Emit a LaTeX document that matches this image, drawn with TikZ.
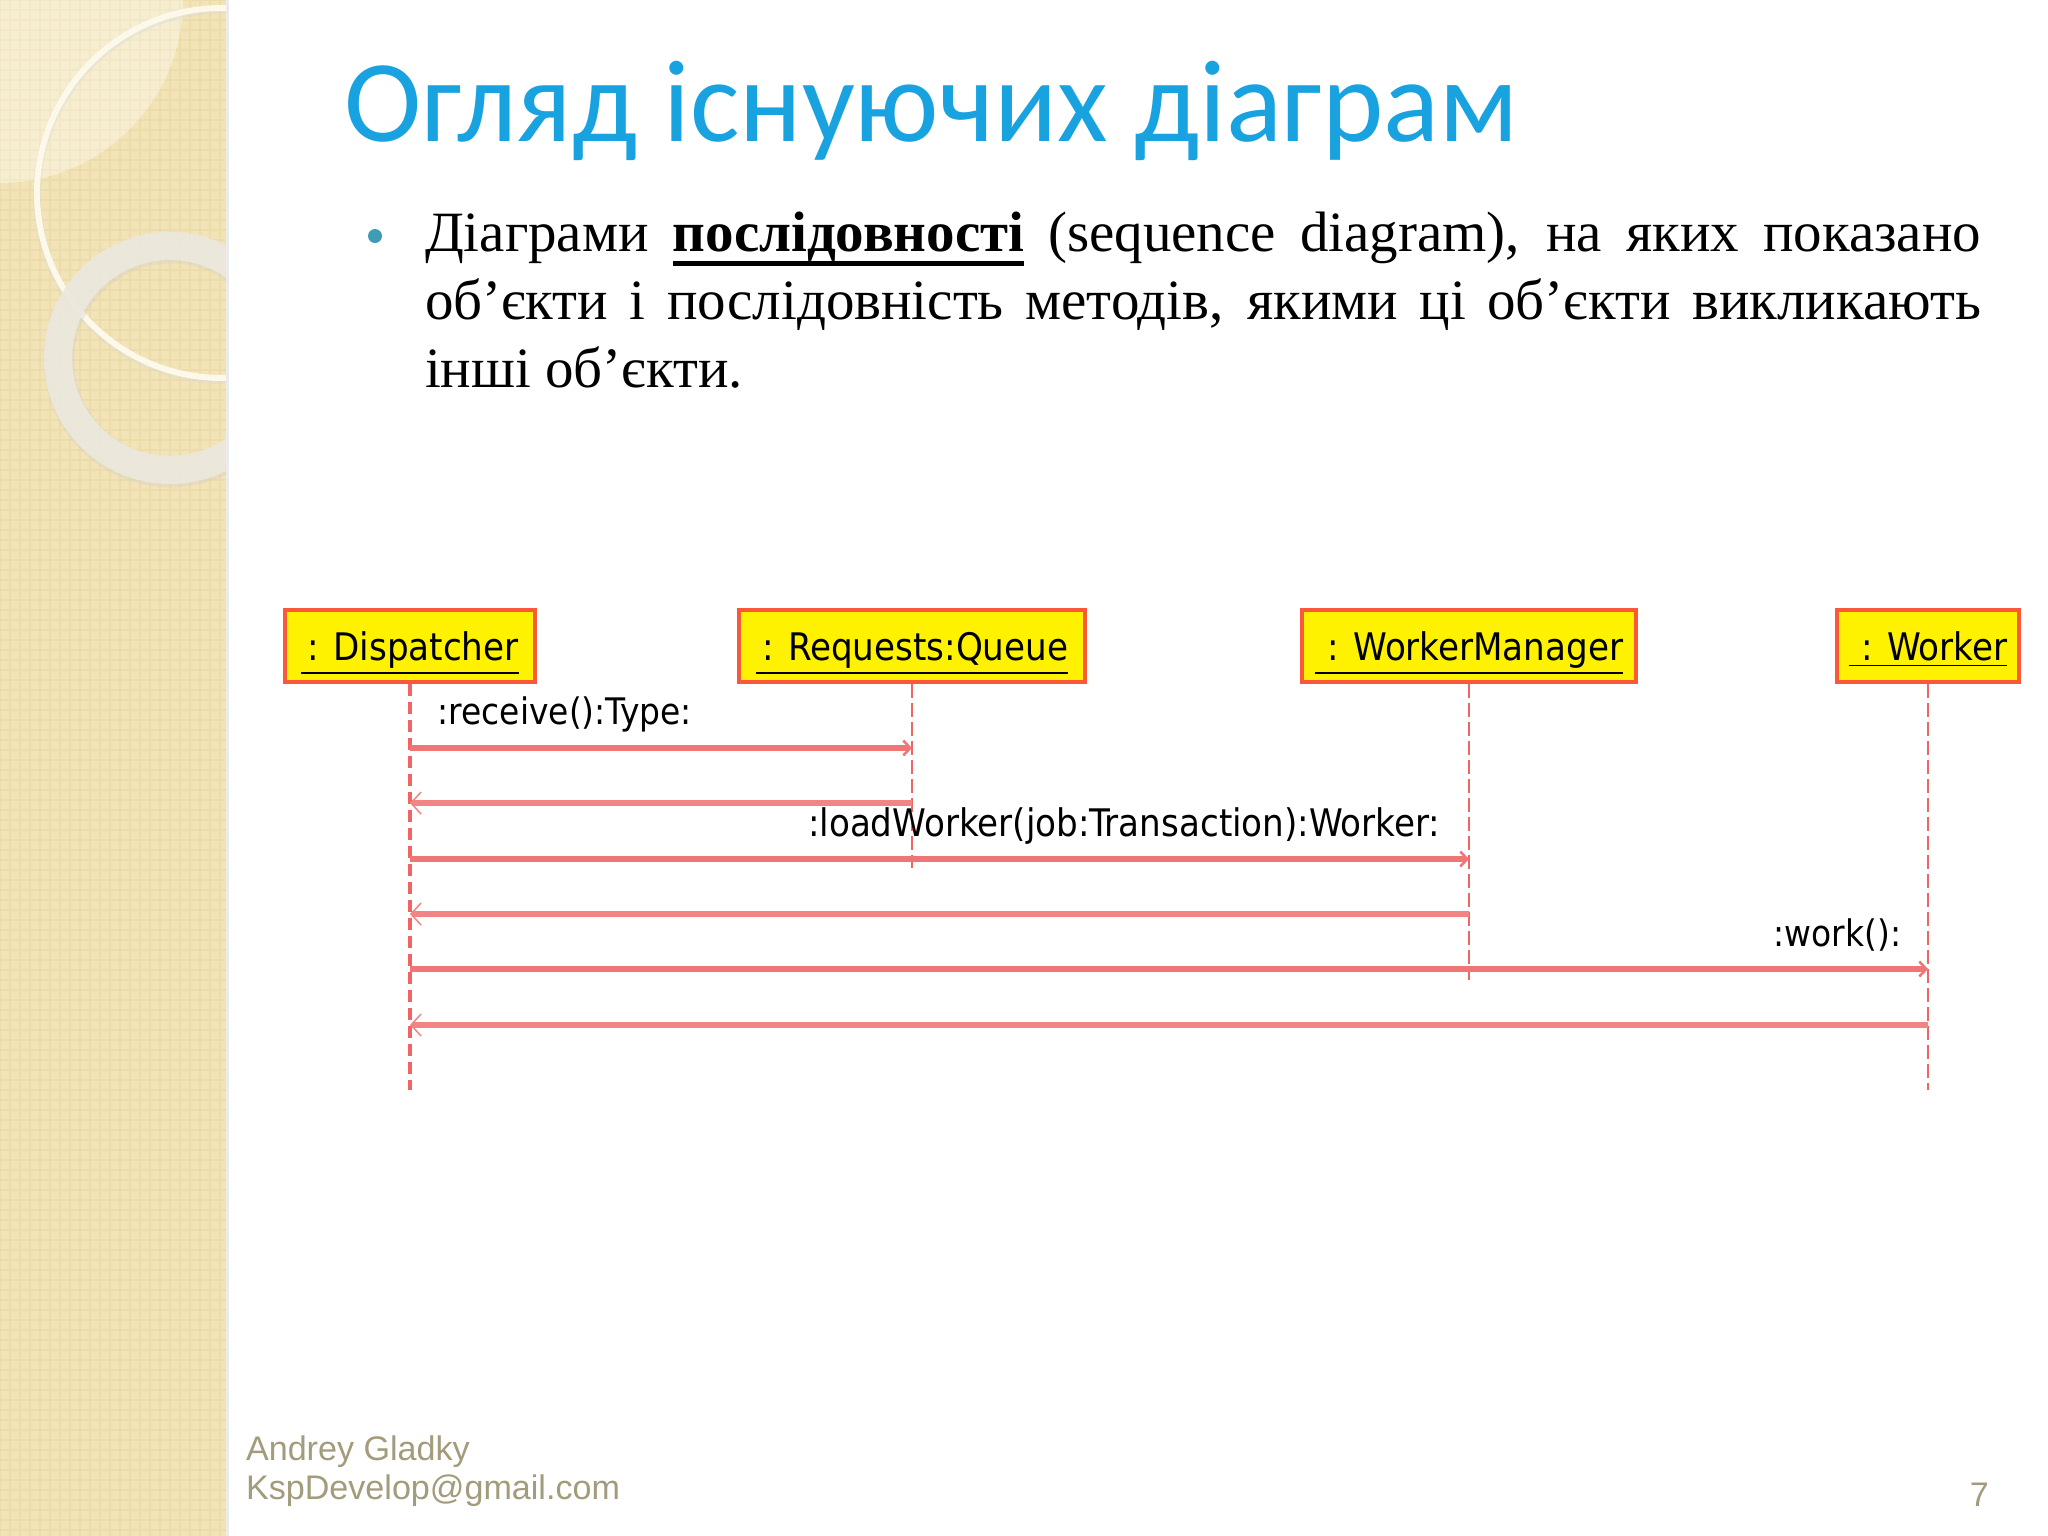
\documentclass[tikz,border=0pt]{standalone}
\usepackage{fontspec}
\setmainfont{Liberation Serif}
\newfontfamily\titlefont{Carlito}
\newfontfamily\footfont{Liberation Sans}
\newfontfamily\umlfont{DejaVu Sans Condensed}
\usetikzlibrary{arrows.meta}
\definecolor{titleblue}{RGB}{24,163,224}
\definecolor{strip}{RGB}{243,228,184}
\definecolor{stripdark}{RGB}{236,220,172}
\definecolor{ringcream}{RGB}{252,248,234}
\definecolor{ringgray}{RGB}{236,232,222}
\definecolor{boxred}{RGB}{250,88,56}
\definecolor{msgred}{RGB}{240,118,118}
\definecolor{lifered}{RGB}{240,100,100}
\definecolor{footgray}{RGB}{163,156,124}
\definecolor{bullteal}{RGB}{62,156,180}
\newcommand{\boldul}[1]{\setbox0\hbox{#1}\rlap{\rule[-4.2pt]{\wd0}{1.4pt}}\box0\relax}

\begin{document}
\begin{tikzpicture}[x=0.01cm,y=-0.01cm,>=Straight Barb,semithick]
  \tikzstyle{object}=[draw=boxred,line width=0.04cm,fill=yellow,minimum height=0.71cm,inner sep=0pt,text height=0.38cm,text depth=0.10cm,font=\umlfont\fontsize{10.8}{13}\selectfont]
  \tikzstyle{life}=[draw=lifered,dash pattern=on 0.14cm off 0.05cm,line width=0.025cm]
  \tikzstyle{call}=[draw=msgred,line width=0.055cm,-{Straight Barb[length=0.07cm,width=0.15cm,line width=0.025cm]}]
  \tikzstyle{back}=[draw=msgred!90,line width=0.06cm,-{Straight Barb[length=0.1cm,width=0.22cm,line width=0.015cm]}]
  \tikzstyle{msg}=[font=\umlfont\fontsize{10.4}{12}\selectfont,inner sep=0pt,text=black]
  \tikzstyle{foot}=[font=\footfont\fontsize{9.7}{11}\selectfont,text=footgray,inner sep=0pt]

  \useasboundingbox (0,0) rectangle (2048,1536);
  \fill[white] (0,0) rectangle (2048,1536);

  % left strip
  \begin{scope}
    \clip (0,0) rectangle (226,1536);
    \fill[strip] (0,0) rectangle (226,1536);
    \foreach \k in {0,10,...,220} \draw[stripdark,line width=0.02cm] (\k,0) -- (\k,1536);
    \foreach \k in {0,10,...,1530} \draw[stripdark,line width=0.02cm] (0,\k) -- (226,\k);
    \begin{scope}
      \clip (0,0) rectangle (183,183);
      \fill[white,opacity=0.35] (0,0) circle[radius=183];
    \end{scope}
    \draw[line width=0.08cm,black!15,opacity=0.4] (222,195) circle[radius=185];
    \draw[line width=0.06cm,ringcream] (222,193) circle[radius=185];
    \draw[line width=0.31cm,black!20,opacity=0.3] (171,360) circle[radius=112];
    \draw[line width=0.28cm,ringgray,opacity=0.92] (170,358) circle[radius=112];
  \end{scope}
  \fill[black!8] (226,0) rectangle (229,1536);

  % title and text
  \node[anchor=base west,inner sep=0pt,text=titleblue,font=\titlefont\fontsize{33.2}{40}\selectfont] (title) at (343,141) {Огляд існуючих діаграм};
  \fill[bullteal] (375,236) circle[radius=7];
  \node[anchor=base west,inner sep=0pt,font=\fontsize{16.2}{19}\selectfont] (line1) at (424,251)
    {\makebox[15.55cm][s]{Діаграми \boldul{\textbf{послідовності}} (sequence diagram), на яких показано}};
  \node[anchor=base west,inner sep=0pt,font=\fontsize{16.2}{19}\selectfont] (line2) at (424,319)
    {\makebox[15.55cm][s]{об’єкти і послідовність методів, якими ці об’єкти викликають}};
  \node[anchor=base west,inner sep=0pt,font=\fontsize{16.2}{19}\selectfont] (line3) at (424,387) {інші об’єкти.};

  % sequence diagram
  \node[object,minimum width=2.49cm] (disp)  at (410,646)  {\underline{\,: Dispatcher}};
  \node[object,minimum width=3.46cm] (queue) at (912,646)  {\underline{\,: Requests:Queue}};
  \node[object,minimum width=3.34cm] (mgr)   at (1469,646) {\underline{\,\,: WorkerManager}};
  \node[object,minimum width=1.82cm] (wrk)   at (1928,646) {\underline{\,\,: Worker}};

  \coordinate (endq) at (0,868);
  \coordinate (endm) at (0,980);
  \coordinate (endall) at (0,1090);
  \path (disp.south)  edge[life,line width=0.04cm,dash pattern=on 0.12cm off 0.06cm] (disp.south |- endall)
        (queue.south) edge[life] (queue.south |- endq)
        (mgr.south)   edge[life] (mgr.south |- endm)
        (wrk.south)   edge[life] (wrk.south |- endall);

  \coordinate (m1) at (0,748);
  \coordinate (m2) at (0,803);
  \coordinate (m3) at (0,859);
  \coordinate (m4) at (0,914);
  \coordinate (m5) at (0,969);
  \coordinate (m6) at (0,1025);

  \path (disp |- m1)  edge[call] node[msg,pos=0,anchor=base west,xshift=0.25cm,yshift=0.23cm] {:receive():Type:} (queue |- m1)
        (queue |- m2) edge[back] (disp |- m2)
        (disp |- m3)  edge[call] node[msg,pos=1,anchor=base east,xshift=-0.26cm,yshift=0.23cm,font=\umlfont\fontsize{10.8}{12}\selectfont] {:loadWorker(job:Transaction):Worker:} (mgr |- m3)
        (mgr |- m4)   edge[back] (disp |- m4)
        (disp |- m5)  edge[call] node[msg,pos=1,anchor=base east,xshift=-0.24cm,yshift=0.23cm] {:work():} (wrk |- m5)
        (wrk |- m6)   edge[back] (disp |- m6);

  % footer
  \node[foot,anchor=base west] (author) at (245,1460) {Andrey Gladky};
  \node[foot,anchor=base west] (mail)   at (245,1499) {KspDevelop@gmail.com};
  \node[foot,anchor=base east] (page)   at (1990,1506) {7};
\end{tikzpicture}
\end{document}
